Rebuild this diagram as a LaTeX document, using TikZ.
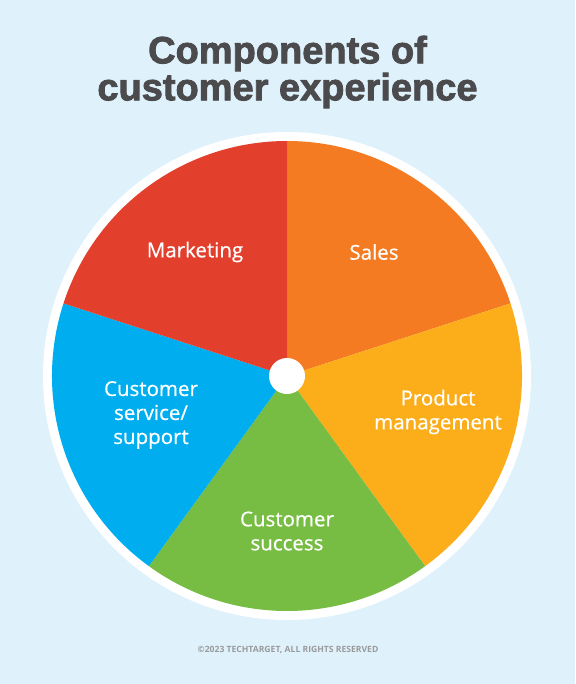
\documentclass[tikz,border=0pt]{standalone}
\usepackage{fontspec}
\setmainfont{Open Sans}
\newfontfamily\titlefont[FakeBold=2.2]{Liberation Sans Bold}
\newfontfamily\lblfont[FakeBold=0.6]{Open Sans}
\definecolor{bgc}{HTML}{DFF2FC}
\definecolor{titc}{HTML}{4B4B4D}
\definecolor{redc}{HTML}{E33F2D}
\definecolor{orac}{HTML}{F47B22}
\definecolor{yelc}{HTML}{FBAE1A}
\definecolor{grec}{HTML}{77BD43}
\definecolor{bluc}{HTML}{00AEEF}
\definecolor{footc}{HTML}{9A9A9C}
\begin{document}
\begin{tikzpicture}[x=1pt,y=-1pt,
  lbl/.style={text=white,font=\lblfont\fontsize{20.5}{24}\selectfont,align=center}]
\fill[bgc] (0,0) rectangle (575,684);
\useasboundingbox (0,0) rectangle (575,684);
\node[font=\titlefont\fontsize{38}{37}\selectfont,text=titc,align=center] (title) at (287.5,72) {Components of\\customer experience};
\coordinate (c) at (287,376);
\fill[white] (c) circle[radius=244];
\fill[orac] (c) -- ++(0,-235) arc[start angle=-90,end angle=-18,radius=235] -- cycle;
\fill[yelc] (c) -- ++(-18:235) arc[start angle=-18,end angle=54,radius=235] -- cycle;
\fill[grec] (c) -- ++(54:235) arc[start angle=54,end angle=126,radius=235] -- cycle;
\fill[bluc] (c) -- ++(126:235) arc[start angle=126,end angle=198,radius=235] -- cycle;
\fill[redc] (c) -- ++(198:235) arc[start angle=198,end angle=270,radius=235] -- cycle;
\fill[white] (c) circle[radius=18];
\node[lbl] (mkt) at (195,252) {Marketing};
\node[lbl] (sales) at (374,252) {Sales};
\node[lbl] (prod) at (438,412) {Product\\management};
\node[lbl] (serv) at (151,415) {Customer\\service/\\support};
\node[lbl] (succ) at (287,531) {Customer\\success};
\node[text=footc,font=\bfseries\fontsize{8.6}{9}\selectfont] (foot) at (288,650) {©2023 TECHTARGET, ALL RIGHTS RESERVED};
\end{tikzpicture}
\end{document}
